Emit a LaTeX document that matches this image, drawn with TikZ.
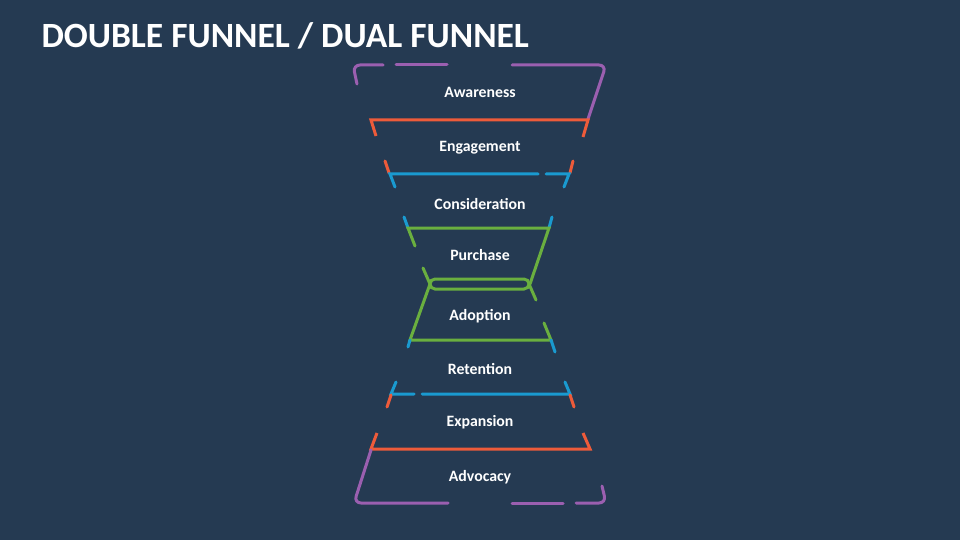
\documentclass[tikz,border=0pt]{standalone}
\usepackage{fontspec}
\setmainfont{Carlito}
\definecolor{bg}{HTML}{253A52}
\definecolor{pur}{HTML}{9B5FB0}
\definecolor{ora}{HTML}{EE5B3A}
\definecolor{blu}{HTML}{1A9AD0}
\definecolor{gre}{HTML}{6AAF3F}
\begin{document}
\begin{tikzpicture}[x=1pt,y=-1pt,line width=3pt,line cap=round,
  lbl/.style={text=white,font=\bfseries\fontsize{15.8}{18}\selectfont}]
\fill[bg] (0,0) rectangle (960,540);
\useasboundingbox (0,0) rectangle (960,540);
\node[anchor=west,inner sep=0pt,text=white,font=\bfseries\fontsize{35.5}{40}\selectfont] (title) at (40,36) {DOUBLE FUNNEL / DUAL FUNNEL};
% purple top
\draw[pur,rounded corners=7pt] (357,84) -- (353,65) -- (383,65);
\draw[pur] (396,65) -- (447,65);
\draw[pur,rounded corners=7pt] (512,65) -- (606,65) -- (588,119);
% orange top
\draw[ora,line cap=butt] (376,136) -- (371,120) -- (588,120) -- (583,137);
\draw[ora] (385,161) -- (389,173);
\draw[ora] (573,161) -- (570,173);
% blue top
\draw[blu] (395,187) -- (390,174) -- (538,174);
\draw[blu] (546,174) -- (569,174) -- (564,187);
\draw[blu] (404,217) -- (408,228);
\draw[blu] (552,217) -- (549,228);
% green
\draw[gre] (415,246) -- (408,228) -- (549,228) -- (530,284);
\draw[gre] (423,268) -- (430,284);
\draw[gre,rounded corners=5pt] (430,279) rectangle (529,289);
\draw[gre] (529,284) -- (536,300);
\draw[gre] (430,284) -- (410,340) -- (551,340) -- (544,323);
\draw[blu] (410,340) -- (408,347);
\draw[blu] (551,340) -- (555,352);
% blue bottom
\draw[blu] (396,382) -- (391,394) -- (414,394);
\draw[blu] (422,394) -- (570,394) -- (565,382);
\draw[ora] (391,395) -- (387,407);
\draw[ora] (570,395) -- (574,407);
% orange bottom
\draw[ora,line cap=butt] (377,433) -- (371,449) -- (590,449) -- (583,433);
% purple bottom
\draw[pur,rounded corners=7pt] (371,450) -- (354,503) -- (448,503);
\draw[pur] (512,503) -- (563,503);
\draw[pur,rounded corners=7pt] (576,503) -- (606,503) -- (602,486);
% labels
\node[lbl] (n1) at (480,92) {Awareness};
\node[lbl] (n2) at (480,148) {Engagement};
\node[lbl] (n3) at (480,204) {Consideration};
\node[lbl] (n4) at (480,255) {Purchase};
\node[lbl] (n5) at (480,316) {Adoption};
\node[lbl] (n6) at (480,369) {Retention};
\node[lbl] (n7) at (480,422) {Expansion};
\node[lbl] (n8) at (480,477) {Advocacy};
\end{tikzpicture}
\end{document}
